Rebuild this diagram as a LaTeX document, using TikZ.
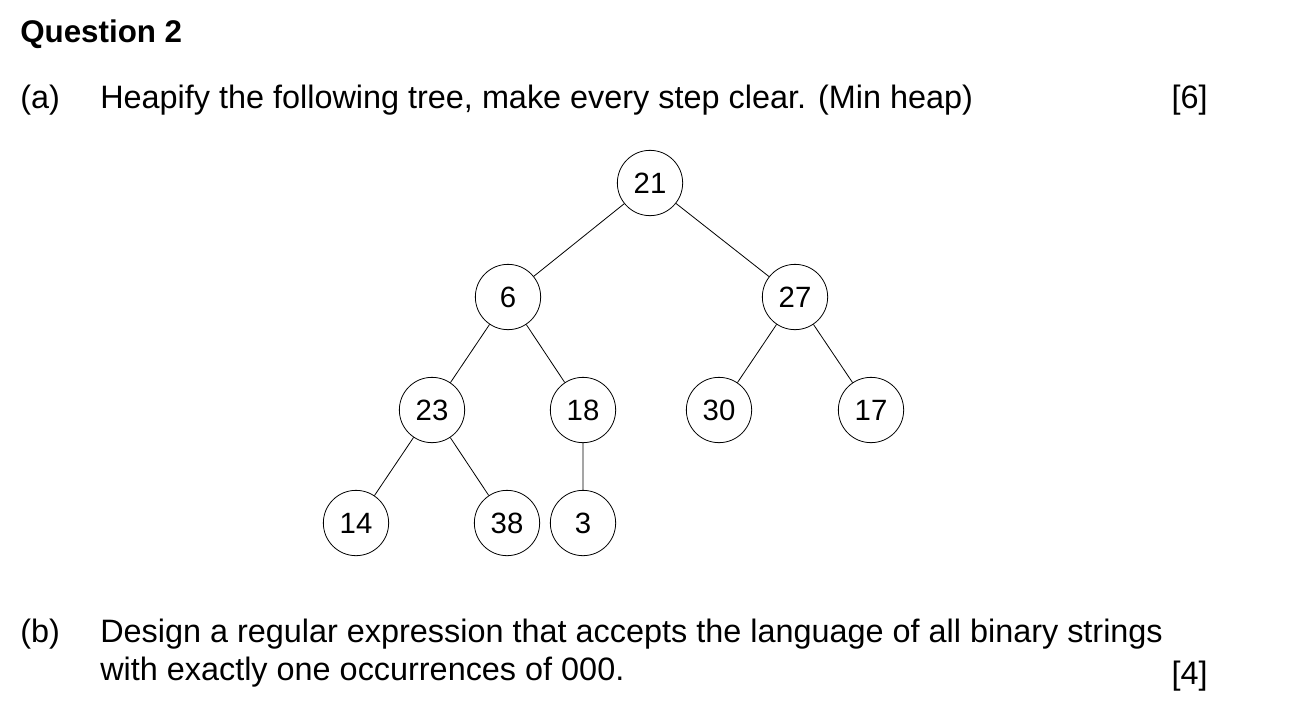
\documentclass[tikz,border=0pt]{standalone}
\usepackage{fontspec}
\setmainfont{Liberation Sans}
\begin{document}
\begin{tikzpicture}[x=0.75pt,y=-0.75pt,
  hn/.style={circle,draw,line width=0.6pt,minimum size=49pt,inner sep=0pt,font=\fontsize{22}{26}\selectfont},
  txt/.style={anchor=west,inner sep=0pt,font=\fontsize{24.3}{28}\selectfont}]
\useasboundingbox (0,0) rectangle (1302,714);
\node[txt,font=\fontsize{23.5}{27}\selectfont\bfseries] (q) at (20,34) {Question 2};
\node[txt] (a) at (20,100) {(a)};
\node[txt] (a2) at (100,100) {Heapify the following tree, make every step clear. (Min heap)};
\node[txt,anchor=east] (m6) at (1208,100) {[6]};
\node[hn] (n21) at (650,183) {21};
\node[hn] (n6) at (508,297) {6};
\node[hn] (n27) at (795,297) {27};
\node[hn] (n23) at (432,410) {23};
\node[hn] (n18) at (583,410) {18};
\node[hn] (n30) at (719,410) {30};
\node[hn] (n17) at (871,410) {17};
\node[hn] (n14) at (356,523) {14};
\node[hn] (n38) at (507,523) {38};
\node[hn] (n3) at (583,523) {3};
\draw[line width=0.6pt] (n21)--(n6) (n21)--(n27) (n6)--(n23) (n6)--(n18)
  (n27)--(n30) (n27)--(n17) (n23)--(n14) (n23)--(n38) (n18)--(n3);
\node[txt] (b) at (20,634) {(b)};
\node[txt] (b1) at (100,634) {Design a regular expression that accepts the language of all binary strings};
\node[txt] (b2) at (100,672) {with exactly one occurrences of 000.};
\node[txt,anchor=east] (m4) at (1208,676) {[4]};
\end{tikzpicture}
\end{document}
